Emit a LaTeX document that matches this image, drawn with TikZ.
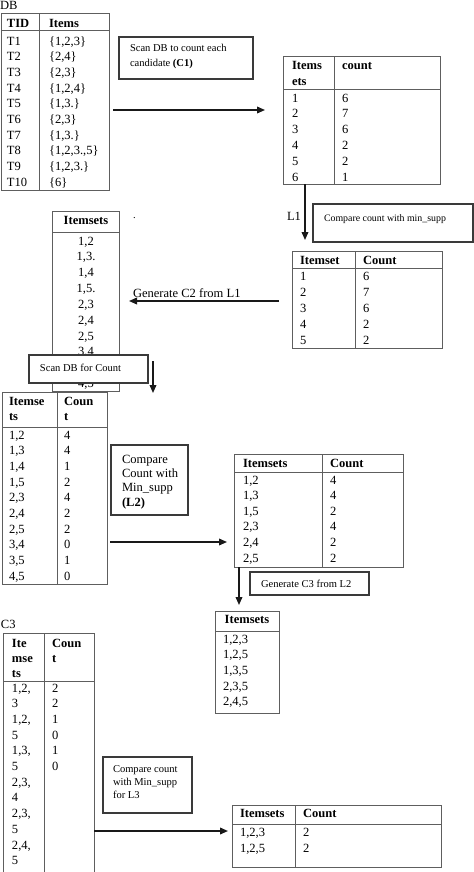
\documentclass[tikz,border=0pt]{standalone}
\usepackage{fontspec}
\setmainfont{Liberation Serif}
\usetikzlibrary{arrows.meta,fit}
\definecolor{tgray}{HTML}{5E5E5E}
\definecolor{bgray}{HTML}{3A3A3A}
\newcounter{tn}
\newcommand\tx[4][]{\stepcounter{tn}\node[txt,anchor=base west,#1] (t\thetn) at (#2,#3) {#4};}
\newcommand\mktable[5]{\coordinate (#1nw) at (#2,#3);\coordinate (#1se) at (#4,#5);
  \node[tbox,fit=(#1nw)(#1se)] (#1) {};}
\newcommand\mkbox[5]{\coordinate (#1nw) at (#2,#3);\coordinate (#1se) at (#4,#5);
  \node[bbox,fit=(#1nw)(#1se)] (#1) {};}
\tikzset{
  txt/.style={font=\fontsize{9.4}{11}\selectfont,inner sep=0pt,outer sep=0pt},
  sm/.style={font=\fontsize{7.9}{9}\selectfont},
  xs/.style={font=\fontsize{7.4}{9}\selectfont},
  tbox/.style={draw=tgray,line width=0.75pt,inner sep=0pt,outer sep=0pt},
  bbox/.style={draw=bgray,line width=1pt,fill=white,inner sep=0pt,outer sep=0pt},
  tline/.style={draw=tgray,line width=0.75pt},
  arr/.style={draw=black!90,line width=1.1pt,-{Triangle[length=6pt,width=5pt]}}
}
\begin{document}
\begin{tikzpicture}[x=0.75pt,y=-0.75pt]
\useasboundingbox (0,0) rectangle (474,872);
% ---------- DB table
\tx{0}{9}{DB}
\mktable{db}{1}{13}{109}{190}
\draw[tline] (1,30) -- (109,30) (39,13) -- (39,190);
\tx{7}{27}{\textbf{TID}}
\tx{49}{27}{\textbf{Items}}
\foreach \a/\b [count=\i from 0] in {T1/{\{1,2,3\}},T2/{\{2,4\}},T3/{\{2,3\}},T4/{\{1,2,4\}},T5/{\{1,3.\}},T6/{\{2,3\}},T7/{\{1,3.\}},T8/{\{1,2,3.,5\}},T9/{\{1,2,3.\}},T10/{\{6\}}}{
  \pgfmathsetmacro\yy{45+15.67*\i}
  \tx{7}{\yy}{\a}
  \tx{49}{\yy}{\b}
}
% ---------- C1 box
\mkbox{bc1}{119}{37}{253}{79}
\tx[sm]{130}{51}{Scan DB to count each}
\tx[sm]{130}{66}{candidate \textbf{(C1)}}
% ---------- C1 table
\mktable{c1}{283}{56}{440}{184}
\draw[tline] (283,89) -- (440,89) (334,56) -- (334,184);
\tx{292}{69}{\textbf{Items}}
\tx{292}{85}{\textbf{ets}}
\tx{342}{69}{\textbf{count}}
\foreach \a/\b [count=\i from 0] in {1/6,2/7,3/6,4/2,5/2,6/1}{
  \pgfmathsetmacro\yy{102+15.8*\i}
  \tx{292}{\yy}{\a}
  \tx{342}{\yy}{\b}
}
% ---------- L1
\tx{287}{220}{L1}
\mkbox{bl1}{313}{204}{473}{242}
\tx[xs]{324}{221}{Compare count with min\_supp}
\mktable{l1}{292}{251}{442}{348}
\draw[tline] (292,268) -- (442,268) (355,251) -- (355,348);
\tx{300}{264}{\textbf{Itemset}}
\tx{363}{264}{\textbf{Count}}
\foreach \a/\b [count=\i from 0] in {1/6,2/7,3/6,4/2,5/2}{
  \pgfmathsetmacro\yy{280+16*\i}
  \tx{300}{\yy}{\a}
  \tx{363}{\yy}{\b}
}
\tx{133}{297}{Generate C2 from L1}
\tx[sm]{133}{218}{.}
% ---------- C2 itemsets (row 3,5 lies wholly under the Scan box)
\mktable{c2i}{52}{211}{119}{391}
\draw[tline] (52,232) -- (119,232);
\tx[anchor=base]{86}{224}{\textbf{Itemsets}}
\foreach \a [count=\i from 0] in {{1,2},{1,3.},{1,4},{1,5.},{2,3},{2,4},{2,5},{3,4}}{
  \pgfmathsetmacro\yy{245+15.85*\i}
  \tx[anchor=base]{86}{\yy}{\a}
}
\tx[anchor=base]{86}{387.5}{4,5}
\mkbox{bscan}{29}{355}{148}{383}
\tx[sm]{40}{371}{Scan DB for Count}
% ---------- C2 count
\mktable{c2}{2}{392}{107}{584}
\draw[tline] (2,427) -- (107,427) (57,392) -- (57,584);
\tx{9}{405}{\textbf{Itemse}}
\tx{9}{420}{\textbf{ts}}
\tx{64}{405}{\textbf{Coun}}
\tx{64}{420}{\textbf{t}}
\foreach \a/\b [count=\i from 0] in {{1,2}/4,{1,3}/4,{1,4}/1,{1,5}/2,{2,3}/4,{2,4}/2,{2,5}/2,{3,4}/0,{3,5}/1,{4,5}/0}{
  \pgfmathsetmacro\yy{439+15.67*\i}
  \tx{9}{\yy}{\a}
  \tx{64}{\yy}{\b}
}
\mkbox{bl2}{111}{445}{188}{515}
\tx{122}{463}{Compare}
\tx{122}{477}{Count with}
\tx{122}{491}{Min\_supp}
\tx{122}{506}{\textbf{(L2)}}
% ---------- L2 table
\mktable{l2}{234}{454}{403}{567}
\draw[tline] (234,472) -- (403,472) (322,454) -- (322,567);
\tx{243}{467}{\textbf{Itemsets}}
\tx{330}{467}{\textbf{Count}}
\foreach \a/\b [count=\i from 0] in {{1,2}/4,{1,3}/4,{1,5}/2,{2,3}/4,{2,4}/2,{2,5}/2}{
  \pgfmathsetmacro\yy{484+15.6*\i}
  \tx{243}{\yy}{\a}
  \tx{330}{\yy}{\b}
}
\mkbox{bc3}{250}{572}{369}{595}
\tx[sm]{261}{587}{Generate C3 from L2}
% ---------- C3 generated
\mktable{c3g}{215}{611}{279}{713}
\draw[tline] (215,631) -- (279,631);
\tx[anchor=base]{247}{623}{\textbf{Itemsets}}
\foreach \a [count=\i from 0] in {{1,2,3},{1,2,5},{1,3,5},{2,3,5},{2,4,5}}{
  \pgfmathsetmacro\yy{643+15.7*\i}
  \tx{223}{\yy}{\a}
}
% ---------- C3 table
\tx{1}{628}{C3}
\mktable{c3}{3}{633}{94}{885}
\draw[tline] (3,681) -- (94,681) (44,633) -- (44,885);
\tx{12}{647}{\textbf{Ite}}
\tx{12}{662}{\textbf{mse}}
\tx{12}{677}{\textbf{ts}}
\tx{52}{647}{\textbf{Coun}}
\tx{52}{662}{\textbf{t}}
\foreach \a [count=\i from 0] in {{1,2,},3,{1,2,},5,{1,3,},5,{2,3,},4,{2,3,},5,{2,4,},5}{
  \pgfmathsetmacro\yy{692+15.7*\i}
  \tx{12}{\yy}{\a}
}
\foreach \b [count=\i from 0] in {2,2,1,0,1,0}{
  \pgfmathsetmacro\yy{692+15.7*\i}
  \tx{52}{\yy}{\b}
}
\mkbox{bl3}{103}{757}{192}{813}
\tx[sm]{113}{772}{Compare count}
\tx[sm]{113}{785}{with Min\_supp}
\tx[sm]{113}{798}{for L3}
% ---------- L3 table
\mktable{l3}{232}{805}{441}{867}
\draw[tline] (232,824) -- (441,824) (295,805) -- (295,867);
\tx{240}{817}{\textbf{Itemsets}}
\tx{303}{817}{\textbf{Count}}
\tx{240}{836}{1,2,3}
\tx{240}{852}{1,2,5}
\tx{303}{836}{2}
\tx{303}{852}{2}
% ---------- connectors
\coordinate (a1s) at (113,110); \coordinate (a1e) at (265,110);
\coordinate (a2s) at (305,184); \coordinate (a2e) at (305,240);
\coordinate (a3s) at (279,301); \coordinate (a3e) at (129,301);
\coordinate (a4s) at (153,361); \coordinate (a4e) at (153,393);
\coordinate (a5s) at (110,542); \coordinate (a5e) at (227,542);
\coordinate (a6s) at (239,567); \coordinate (a6e) at (239,605);
\coordinate (a7s) at (94,831);  \coordinate (a7e) at (228,831);
\draw[arr] (a1s) -- (a1e);
\draw[arr] (a2s) -- (a2e);
\draw[arr] (a3s) -- (a3e);
\draw[arr] (a4s) -- (a4e);
\draw[arr] (a5s) -- (a5e);
\draw[arr] (a6s) -- (a6e);
\draw[arr] (a7s) -- (a7e);
\end{tikzpicture}
\end{document}
